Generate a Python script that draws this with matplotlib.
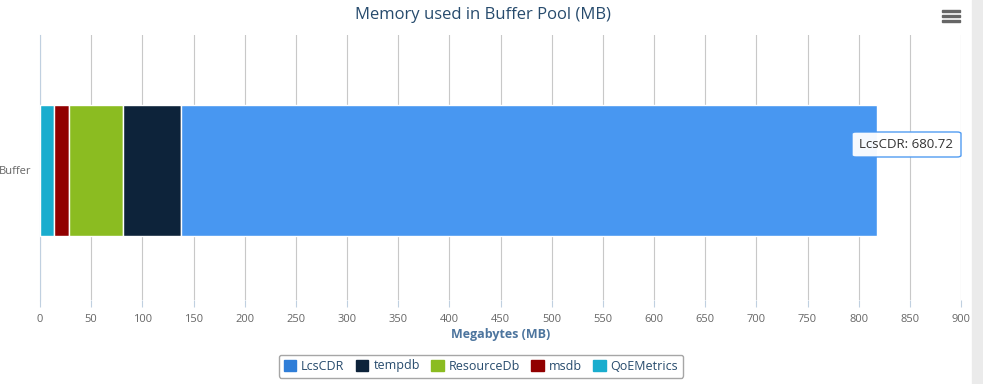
import matplotlib.pyplot as plt
from matplotlib.patches import Rectangle, FancyBboxPatch

plt.rcParams['font.family'] = ['Open Sans', 'DejaVu Sans']

# data
category = ["Buffer"]
series_names = ["QoEMetrics", "msdb", "ResourceDb", "tempdb", "LcsCDR"]
series_values = [13.2, 14.8, 53.3, 56.1, 680.72]
series_colors = ["#1aadce", "#910000", "#8bbc21", "#0d233a", "#4897f1"]
legend_order = ["LcsCDR", "tempdb", "ResourceDb", "msdb", "QoEMetrics"]
legend_colors = {"LcsCDR": "#2f7ed8", "tempdb": "#0d233a", "ResourceDb": "#8bbc21",
                 "msdb": "#910000", "QoEMetrics": "#1aadce"}
xticks = list(range(0, 901, 50))

W, H = 983, 384
fig = plt.figure(figsize=(W / 100, H / 100), dpi=100)
ax = fig.add_axes([40 / W, 1 - 300 / H, 921 / W, 265 / H])

left = 0
for name, val, col in zip(series_names, series_values, series_colors):
    ax.barh(0, val, left=left, height=0.494, color=col, edgecolor="white",
            linewidth=1, zorder=3)
    left += val

ax.set_xlim(0, 900)
ax.set_ylim(-0.4887, 0.5113)
ax.set_xticks(xticks)
ax.set_xticklabels([str(t) for t in xticks], fontsize=8, color="#666666")
ax.set_yticks([0])
ax.set_yticklabels(category, fontsize=8, color="#666666")
ax.tick_params(axis="y", length=0, pad=6)
ax.tick_params(axis="x", length=5, width=0.8, color="#C0D0E0", pad=5)
ax.grid(axis="x", color="#C8C8C8", linewidth=0.8, zorder=0)
for s in ["top", "right", "bottom"]:
    ax.spines[s].set_visible(False)
ax.spines["left"].set_color("#C0D0E0")
ax.set_xlabel("Megabytes (MB)", fontsize=9, fontweight="bold", color="#4d759e",
              labelpad=2)

fig.text(483 / W, 1 - 15 / H, "Memory used in Buffer Pool (MB)", ha="center",
         va="center", fontsize=12, color="#274b6d")

# tooltip
tip = FancyBboxPatch((852 / W, 1 - 157 / H), 109 / W, 25 / H,
                     boxstyle="round,pad=0,rounding_size=0.004",
                     transform=fig.transFigure, facecolor="white",
                     edgecolor="#4897f1", linewidth=1, zorder=10, alpha=0.95)
fig.patches.append(tip)
fig.text(906 / W, 1 - 144 / H, "LcsCDR: 680.72", ha="center", va="center",
         fontsize=9.5, color="#333333", zorder=11)

# menu icon
for yy in (11, 16, 21):
    fig.patches.append(Rectangle((942 / W, 1 - (yy + 1) / H), 18 / W, 2 / H,
                                 transform=fig.transFigure, color="#666666"))

# scrollbar strip
fig.patches.append(Rectangle((972 / W, 0), 11 / W, 1, transform=fig.transFigure,
                             color="#ebebeb"))

handles = [FancyBboxPatch((0, 0), 1, 1, boxstyle="round,pad=0,rounding_size=0.2",
                          color=legend_colors[n]) for n in legend_order]
leg = fig.legend(handles, legend_order, loc="center", ncol=5,
                 bbox_to_anchor=(481 / W, 1 - 366 / H), fontsize=9,
                 frameon=True, fancybox=True, edgecolor="#909090",
                 handlelength=1.0, handleheight=1.0, handletextpad=0.4,
                 columnspacing=0.9, borderpad=0.4)
for t in leg.get_texts():
    t.set_color("#274b6d")
leg.get_frame().set_linewidth(1)

fig.savefig("out.png", dpi=100)
